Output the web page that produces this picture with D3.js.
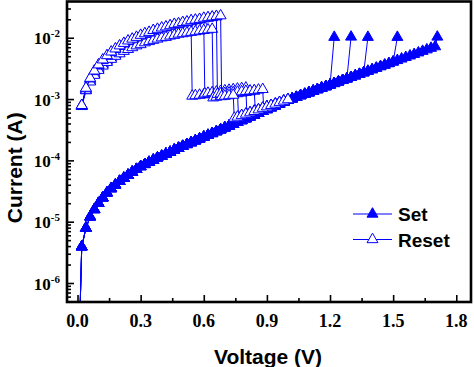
<!DOCTYPE html>
<html>
<head>
<meta charset="utf-8">
<script src="https://cdn.jsdelivr.net/npm/d3@7"></script>
<style>
  body { margin: 0; background: #fff; }
  svg { display: block; }
</style>
</head>
<body>
<svg width="474" height="367"></svg>
<script>
// Set sweep (filled triangles), one shared curve, each cycle jumps at its own voltage
const setVoltage = [0.00, 0.02, 0.04, 0.06, 0.08, 0.10, 0.12, 0.14, 0.16, 0.18, 0.20,
  0.22, 0.24, 0.26, 0.28, 0.30, 0.32, 0.34, 0.36, 0.38, 0.40,
  0.42, 0.44, 0.46, 0.48, 0.50, 0.52, 0.54, 0.56, 0.58, 0.60,
  0.62, 0.64, 0.66, 0.68, 0.70, 0.72, 0.74, 0.76, 0.78, 0.80,
  0.82, 0.84, 0.86, 0.88, 0.90, 0.92, 0.94, 0.96, 0.98, 1.00,
  1.02, 1.04, 1.06, 1.08, 1.10, 1.12, 1.14, 1.16, 1.18, 1.20,
  1.22, 1.24, 1.26, 1.28, 1.30, 1.32, 1.34, 1.36, 1.38, 1.40,
  1.42, 1.44, 1.46, 1.48, 1.50, 1.52, 1.54, 1.56, 1.58, 1.60,
  1.62, 1.64, 1.66, 1.68, 1.70]
const setCurrent = [1e-8, 3.9e-6, 7.9e-6, 1.2e-5, 1.58e-5, 2.0e-5, 2.45e-5, 2.95e-5, 3.47e-5, 3.98e-5, 4.57e-5,
  5.13e-5, 5.75e-5, 6.46e-5, 7.16e-5, 7.94e-5, 8.6e-5, 9.33e-5, 1.01e-4, 1.10e-4, 1.17e-4,
  1.27e-4, 1.36e-4, 1.48e-4, 1.58e-4, 1.70e-4, 1.82e-4, 1.95e-4, 2.09e-4, 2.24e-4, 2.40e-4,
  2.57e-4, 2.75e-4, 2.95e-4, 3.16e-4, 3.39e-4, 3.63e-4, 3.89e-4, 4.17e-4, 4.47e-4, 4.79e-4,
  5.13e-4, 5.50e-4, 5.89e-4, 6.31e-4, 6.76e-4, 7.24e-4, 7.76e-4, 8.32e-4, 8.91e-4, 9.55e-4,
  1.01e-3, 1.07e-3, 1.14e-3, 1.20e-3, 1.27e-3, 1.35e-3, 1.43e-3, 1.51e-3, 1.60e-3, 1.70e-3,
  1.80e-3, 1.91e-3, 2.02e-3, 2.14e-3, 2.26e-3, 2.40e-3, 2.54e-3, 2.69e-3, 2.85e-3, 3.02e-3,
  3.20e-3, 3.39e-3, 3.59e-3, 3.80e-3, 4.03e-3, 4.27e-3, 4.52e-3, 4.79e-3, 5.07e-3, 5.37e-3,
  5.69e-3, 6.03e-3, 6.38e-3, 6.76e-3, 7.16e-3]
const setStopVoltage = [1.20, 1.28, 1.36, 1.50, 1.70]
const setJumpVoltage = [1.22, 1.30, 1.38, 1.52, 1.71]
const setJumpCurrent = [1.02e-2, 1.03e-2, 1.02e-2, 1.02e-2, 1.03e-2]

// Reset sweeps (open triangles): low resistance branch on a shared voltage grid
const resetVoltage = [0.02, 0.04, 0.06, 0.08, 0.10, 0.12, 0.14, 0.16, 0.18, 0.20,
  0.22, 0.24, 0.26, 0.28, 0.30, 0.32, 0.34, 0.36, 0.38, 0.40,
  0.42, 0.44, 0.46, 0.48, 0.50, 0.52, 0.54, 0.56, 0.58, 0.60,
  0.62, 0.64, 0.66, 0.68]
const lrs1 = [7.6e-4, 1.38e-3, 1.95e-3, 2.51e-3, 3.09e-3, 3.63e-3, 4.17e-3, 4.79e-3, 5.37e-3, 5.89e-3,
  6.46e-3, 6.92e-3, 7.41e-3, 7.94e-3, 8.51e-3, 8.91e-3, 9.33e-3, 9.77e-3, 1.02e-2, 1.07e-2,
  1.10e-2, 1.15e-2, 1.17e-2, 1.23e-2, 1.26e-2, 1.29e-2, 1.32e-2]
const lrs2 = [7.9e-4, 1.45e-3, 2.04e-3, 2.63e-3, 3.24e-3, 3.80e-3, 4.37e-3, 5.01e-3, 5.62e-3, 6.17e-3,
  6.76e-3, 7.24e-3, 7.76e-3, 8.32e-3, 8.91e-3, 9.33e-3, 9.77e-3, 1.02e-2, 1.07e-2, 1.12e-2,
  1.17e-2, 1.23e-2, 1.26e-2, 1.32e-2, 1.35e-2, 1.41e-2, 1.45e-2, 1.48e-2, 1.55e-2, 1.58e-2]
const lrs3 = [7.6e-4, 1.38e-3, 1.91e-3, 2.45e-3, 2.95e-3, 3.47e-3, 3.98e-3, 4.47e-3, 5.01e-3, 5.50e-3,
  6.03e-3, 6.46e-3, 6.92e-3, 7.41e-3, 7.76e-3, 8.32e-3, 8.71e-3, 9.12e-3, 9.55e-3, 1.0e-2,
  1.02e-2, 1.07e-2, 1.10e-2, 1.15e-2, 1.17e-2, 1.20e-2, 1.23e-2, 1.26e-2, 1.29e-2, 1.32e-2,
  1.35e-2, 1.38e-2]
const lrs4 = [7.8e-4, 1.48e-3, 2.14e-3, 2.82e-3, 3.55e-3, 4.27e-3, 5.01e-3, 5.75e-3, 6.46e-3, 7.24e-3,
  7.94e-3, 8.71e-3, 9.33e-3, 9.98e-3, 1.07e-2, 1.14e-2, 1.20e-2, 1.29e-2, 1.35e-2, 1.41e-2,
  1.48e-2, 1.55e-2, 1.62e-2, 1.66e-2, 1.74e-2, 1.78e-2, 1.86e-2, 1.91e-2, 1.95e-2, 2.04e-2,
  2.09e-2, 2.14e-2, 2.2e-2]
const lrs5 = [7.9e-4, 1.51e-3, 2.19e-3, 2.88e-3, 3.63e-3, 4.37e-3, 5.13e-3, 5.89e-3, 6.61e-3, 7.41e-3,
  8.13e-3, 8.91e-3, 9.55e-3, 1.02e-2, 1.10e-2, 1.17e-2, 1.23e-2, 1.32e-2, 1.38e-2, 1.45e-2,
  1.51e-2, 1.58e-2, 1.66e-2, 1.70e-2, 1.78e-2, 1.82e-2, 1.91e-2, 1.95e-2, 2.0e-2, 2.09e-2,
  2.14e-2, 2.19e-2, 2.24e-2, 2.29e-2]

// after reset: high resistance branch, a second drop, then up to 1.0 V
const hrsV1 = [0.545, 0.56, 0.58, 0.60, 0.62, 0.64, 0.66, 0.68, 0.70, 0.72, 0.74, 0.76,
  0.765, 0.78, 0.80, 0.82, 0.84, 0.86, 0.88, 0.90, 0.92, 0.94, 0.96, 0.98, 1.00]
const hrsI1 = [1.12e-3, 1.14e-3, 1.16e-3, 1.18e-3, 1.20e-3, 1.22e-3, 1.24e-3, 1.26e-3, 1.28e-3, 1.30e-3, 1.32e-3, 1.34e-3,
  5.1e-4, 5.4e-4, 5.7e-4, 6.0e-4, 6.4e-4, 6.7e-4, 7.1e-4, 7.5e-4, 7.9e-4, 8.3e-4, 8.8e-4, 9.3e-4, 9.8e-4]
const hrsV2 = [0.605, 0.62, 0.64, 0.66, 0.68, 0.70, 0.72, 0.74, 0.76, 0.78, 0.80,
  0.805, 0.82, 0.84, 0.86, 0.88, 0.90, 0.92, 0.94, 0.96, 0.98, 1.00]
const hrsI2 = [1.22e-3, 1.25e-3, 1.28e-3, 1.31e-3, 1.34e-3, 1.37e-3, 1.40e-3, 1.43e-3, 1.46e-3, 1.49e-3, 1.52e-3,
  5.6e-4, 5.9e-4, 6.3e-4, 6.6e-4, 7.0e-4, 7.4e-4, 7.8e-4, 8.2e-4, 8.7e-4, 9.2e-4, 9.7e-4]
const hrsV3 = [0.645, 0.66, 0.68, 0.70, 0.72, 0.74, 0.76, 0.78, 0.80, 0.82, 0.84,
  0.845, 0.86, 0.88, 0.90, 0.92, 0.94, 0.96, 0.98, 1.00]
const hrsI3 = [1.05e-3, 1.08e-3, 1.11e-3, 1.14e-3, 1.17e-3, 1.20e-3, 1.23e-3, 1.26e-3, 1.29e-3, 1.32e-3, 1.35e-3,
  6.4e-4, 6.7e-4, 7.1e-4, 7.5e-4, 7.9e-4, 8.3e-4, 8.8e-4, 9.3e-4, 9.8e-4]
const hrsV4 = [0.665, 0.68, 0.70, 0.72, 0.74, 0.76, 0.78, 0.80, 0.82, 0.84, 0.86, 0.88,
  0.885, 0.90, 0.92, 0.94, 0.96, 0.98, 1.00]
const hrsI4 = [1.20e-3, 1.22e-3, 1.24e-3, 1.26e-3, 1.28e-3, 1.30e-3, 1.32e-3, 1.34e-3, 1.36e-3, 1.38e-3, 1.41e-3, 1.44e-3,
  6.8e-4, 7.2e-4, 7.7e-4, 8.2e-4, 8.7e-4, 9.2e-4, 9.7e-4]
const hrsV5 = [0.685, 0.70, 0.72, 0.74,
  0.745, 0.76, 0.78, 0.80, 0.82, 0.84, 0.86, 0.88, 0.90, 0.92, 0.94, 0.96, 0.98, 1.00]
const hrsI5 = [1.10e-3, 1.12e-3, 1.14e-3, 1.16e-3,
  4.9e-4, 5.1e-4, 5.4e-4, 5.7e-4, 6.0e-4, 6.3e-4, 6.7e-4, 7.1e-4, 7.5e-4, 7.9e-4, 8.3e-4, 8.8e-4, 9.3e-4, 9.8e-4]

const xTickValues = [0, 0.3, 0.6, 0.9, 1.2, 1.5, 1.8]
const xMinorValues = [0.15, 0.45, 0.75, 1.05, 1.35, 1.65]
const yTickValues = [1e-6, 1e-5, 1e-4, 1e-3, 1e-2]
const legendLabels = ['Set', 'Reset']

const BLUE = '#0000ff'
const pLeft = 67, pRight = 471, pTop = 1.5, pBottom = 302

const svg = d3.select('svg')

const x = d3.scaleLinear().domain([-0.05, 1.87]).range([pLeft, pRight])
const y = d3.scaleLog().domain([4.9e-7, 3.9e-2]).range([pBottom, pTop])

// build the cycles
const setCycles = setStopVoltage.map((stop, i) => {
  const pts = setVoltage.map((v, j) => [v, setCurrent[j]]).filter(d => d[0] <= stop + 1e-9)
  pts.push([setJumpVoltage[i], setJumpCurrent[i]])
  return pts
})
const lrsList = [lrs1, lrs2, lrs3, lrs4, lrs5]
const hrsVList = [hrsV1, hrsV2, hrsV3, hrsV4, hrsV5]
const hrsIList = [hrsI1, hrsI2, hrsI3, hrsI4, hrsI5]
const resetCycles = lrsList.map((lrs, i) => {
  const pts = lrs.map((c, j) => [resetVoltage[j], c])
  hrsVList[i].forEach((v, j) => pts.push([v, hrsIList[i][j]]))
  return pts
})

svg.append('defs').append('clipPath').attr('id', 'plot')
  .append('rect').attr('x', pLeft).attr('y', pTop).attr('width', pRight - pLeft).attr('height', pBottom - pTop)

const line = d3.line().x(d => x(d[0])).y(d => y(d[1]))
const tri = d3.symbol().type(d3.symbolTriangle).size(52)

const plot = svg.append('g').attr('clip-path', 'url(#plot)')

// set first, reset drawn on top
const setG = plot.append('g')
setCycles.forEach(pts => {
  setG.append('path').attr('d', line(pts))
    .attr('fill', 'none').attr('stroke', BLUE).attr('stroke-width', 1)
})
setCycles.forEach(pts => {
  setG.selectAll(null).data(pts).enter().append('path')
    .attr('d', tri)
    .attr('transform', d => `translate(${x(d[0])},${y(d[1])})`)
    .attr('fill', BLUE).attr('stroke', BLUE).attr('stroke-width', 1)
})

const resetG = plot.append('g')
resetCycles.forEach(pts => {
  resetG.append('path').attr('d', line(pts))
    .attr('fill', 'none').attr('stroke', BLUE).attr('stroke-width', 1)
  resetG.selectAll(null).data(pts).enter().append('path')
    .attr('d', tri)
    .attr('transform', d => `translate(${x(d[0])},${y(d[1])})`)
    .attr('fill', '#fff').attr('stroke', BLUE).attr('stroke-width', 1)
})

// axes: inward ticks
const xAxis = svg.append('g').attr('transform', `translate(0,${pBottom})`)
xAxis.call(d3.axisBottom(x).tickValues(xTickValues).tickSize(-7).tickFormat(''))
xAxis.append('g').call(d3.axisBottom(x).tickValues(xMinorValues).tickSize(-4).tickFormat(''))
xAxis.selectAll('.domain').remove()

const yAxis = svg.append('g').attr('transform', `translate(${pLeft},0)`)
yAxis.call(d3.axisLeft(y).tickValues(yTickValues).tickSize(-7).tickFormat(''))
const yMinor = y.ticks().filter(t => Math.abs(Math.log10(t) - Math.round(Math.log10(t))) > 1e-6)
yAxis.append('g').call(d3.axisLeft(y).tickValues(yMinor).tickSize(-4).tickFormat(''))
yAxis.selectAll('.domain').remove()
svg.selectAll('.tick line').attr('stroke', '#000').attr('stroke-width', 1.6)

svg.append('rect')
  .attr('x', pLeft).attr('y', pTop).attr('width', pRight - pLeft).attr('height', pBottom - pTop)
  .attr('fill', 'none').attr('stroke', '#000').attr('stroke-width', 2.6)

// tick labels
const serif = '"Liberation Serif", "Times New Roman", serif'
const sans = '"Liberation Sans", Arial, sans-serif'

svg.append('g').selectAll('text').data(xTickValues).enter().append('text')
  .attr('x', d => x(d)).attr('y', 326.5)
  .attr('text-anchor', 'middle')
  .attr('font-family', serif).attr('font-weight', 'bold').attr('font-size', 18)
  .text(d => d.toFixed(1))

const yLab = svg.append('g').selectAll('text').data(yTickValues).enter().append('text')
  .attr('x', 60).attr('y', d => y(d) + 6.5)
  .attr('text-anchor', 'end')
  .attr('font-family', serif).attr('font-weight', 'bold').attr('font-size', 17)
yLab.append('tspan').text('10')
yLab.append('tspan').attr('dy', -7).attr('font-size', 11)
  .text(d => '-' + Math.round(-Math.log10(d)))

// axis titles
svg.append('text')
  .attr('transform', `translate(21.5,${(pTop + pBottom) / 2 + 16}) rotate(-90)`)
  .attr('text-anchor', 'middle')
  .attr('font-family', sans).attr('font-weight', 'bold').attr('font-size', 21)
  .text('Current (A)')

svg.append('text')
  .attr('x', 268).attr('y', 364)
  .attr('text-anchor', 'middle')
  .attr('font-family', sans).attr('font-weight', 'bold').attr('font-size', 21)
  .text('Voltage (V)')

// legend
const legend = svg.append('g').selectAll('g').data(legendLabels).enter().append('g')
  .attr('transform', (d, i) => `translate(0,${214 + i * 25.5})`)
legend.append('line').attr('x1', 353).attr('x2', 392)
  .attr('stroke', BLUE).attr('stroke-width', 1)
legend.append('path').attr('d', tri).attr('transform', 'translate(372.5,0)')
  .attr('fill', (d, i) => i === 0 ? BLUE : '#fff')
  .attr('stroke', BLUE).attr('stroke-width', 1)
legend.append('text').attr('x', 398).attr('y', 7)
  .attr('font-family', sans).attr('font-weight', 'bold').attr('font-size', 19)
  .text(d => d)
</script>
</body>
</html>
